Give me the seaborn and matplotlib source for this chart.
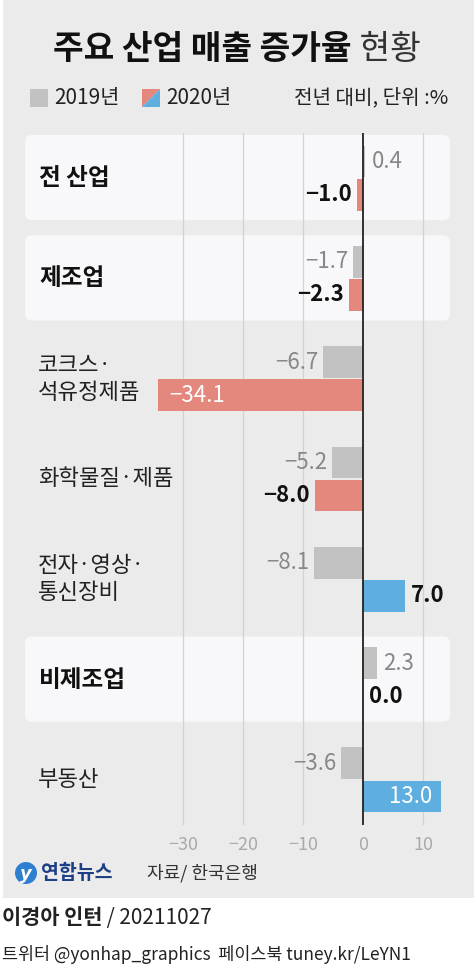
import pandas as pd
import matplotlib.pyplot as plt
import seaborn as sns
from matplotlib.patches import FancyBboxPatch, Rectangle, Polygon, Circle

# Data (전년 대비 증가율, %)
categories = ['전 산업', '제조업', '코크스·\n석유정제품', '화학물질·제품',
              '전자·영상·\n통신장비', '비제조업', '부동산']
bold_rows = [0, 1, 5]
values_2019 = [0.4, -1.7, -6.7, -5.2, -8.1, 2.3, -3.6]
values_2020 = [-1.0, -2.3, -34.1, -8.0, 7.0, 0.0, 13.0]
label_2019 = ['0.4', '−1.7', '−6.7', '−5.2', '−8.1', '2.3', '−3.6']
label_2020 = ['−1.0', '−2.3', '−34.1', '−8.0', '7.0', '0.0', '13.0']
inside_2020 = [False, False, True, False, False, False, True]
years = ['2019년', '2020년']
xticks = [-30, -20, -10, 0, 10]

GRAY = '#c2c2c2'
RED = '#e4877d'
BLUE = '#5eaee0'
PANEL = '#ebebeb'
BOX = '#f8f8fa'

sns.set_theme(style='white')
plt.rcParams['font.family'] = ['Noto Sans CJK KR', 'DejaVu Sans']
plt.rcParams['axes.unicode_minus'] = True

W, H = 474, 971
fig = plt.figure(figsize=(W / 100, H / 100), dpi=100)

# background axes in pixel coordinates
bg = fig.add_axes([0, 0, 1, 1], zorder=0)
bg.set_xlim(0, W)
bg.set_ylim(H, 0)
bg.axis('off')
bg.add_patch(Rectangle((3, 0), W - 3, 898, color=PANEL, lw=0))

# main chart axes
top_px, bot_px = 133, 825
ax = fig.add_axes([3 / W, 1 - bot_px / H, (W - 3) / W, (bot_px - top_px) / H], zorder=1)
ax.set_facecolor('none')

df = pd.DataFrame({
    'category': categories * 2,
    'value': values_2019 + values_2020,
    'year': [years[0]] * len(categories) + [years[1]] * len(categories),
})

sns.barplot(data=df, y='category', x='value', hue='year', orient='h',
            palette=[GRAY, RED], saturation=1, width=0.66, gap=0.04,
            legend=False, errorbar=None, linewidth=0, ax=ax, zorder=3)

# positive 2020 bars in blue
for bar, v in zip(ax.containers[1], values_2020):
    if v > 0:
        bar.set_facecolor(BLUE)

ax.set_xlim(-60, 18.5)
ax.set_ylim(6.45, -0.45)
ax.set_xlabel('')
ax.set_ylabel('')
ax.set_yticks([])
ax.set_xticks(xticks)
ax.tick_params(axis='x', length=0, pad=8, labelsize=13, labelcolor='#aaaaaa')
for s in ax.spines.values():
    s.set_visible(False)

for gx in xticks:
    if gx == 0:
        ax.axvline(0, color='#222222', lw=1.3, zorder=4)
    else:
        ax.axvline(gx, color='#d2d2d2', lw=0.9, zorder=2)

# white boxes for the total rows
inv = bg.transData.inverted()
for i in bold_rows:
    _, y0 = inv.transform(ax.transData.transform((0, i - 0.43)))
    _, y1 = inv.transform(ax.transData.transform((0, i + 0.42)))
    bg.add_patch(FancyBboxPatch((25, y0), 425, y1 - y0,
                                boxstyle='round,pad=0,rounding_size=7',
                                fc=BOX, ec='none', zorder=1))

# category labels
ytr = ax.get_yaxis_transform()
for i, c in enumerate(categories):
    if i in bold_rows:
        ax.text(0.077, i, c, transform=ytr, ha='left', va='center',
                fontsize=17, fontweight='bold', color='#111111')
    else:
        ax.text(0.075, i, c, transform=ytr, ha='left', va='center',
                fontsize=16, color='#222222', linespacing=1.2)

# value labels
off = 3.5
for bars, vals, labs, year in [(ax.containers[0], values_2019, label_2019, 0),
                               (ax.containers[1], values_2020, label_2020, 1)]:
    for k, (bar, v, lab) in enumerate(zip(bars, vals, labs)):
        yc = bar.get_y() + bar.get_height() / 2
        if year == 0:
            kw = dict(color='#888888', fontsize=16)
        else:
            kw = dict(color='#111111', fontsize=16, fontweight='bold')
        if year == 1 and inside_2020[k]:
            kw['color'] = 'white'
            kw['fontweight'] = 'normal'
            if v < 0:
                ax.annotate(lab, (v, yc), xytext=(8, 0), textcoords='offset points',
                            ha='left', va='center', zorder=5, **kw)
            else:
                ax.annotate(lab, (v, yc), xytext=(-6, 0), textcoords='offset points',
                            ha='right', va='center', zorder=5, **kw)
        elif v < 0:
            ax.annotate(lab, (v, yc), xytext=(-off, 0), textcoords='offset points',
                        ha='right', va='center', zorder=5, **kw)
        else:
            ax.annotate(lab, (v, yc), xytext=(off + 1, 0), textcoords='offset points',
                        ha='left', va='center', zorder=5, **kw)

# title: bold part + regular part, centred as one line
t1 = bg.text(237, 50, '주요 산업 매출 증가율', ha='right', va='center', fontsize=24,
             fontweight='bold', color='#111111')
t2 = bg.text(237, 50, ' 현황', ha='left', va='center', fontsize=24, color='#333333')
fig.canvas.draw()
r = fig.canvas.get_renderer()
w1 = t1.get_window_extent(r).width
w2 = t2.get_window_extent(r).width
shift = (w1 - w2) / 2
t1.set_x(237 + shift)
t2.set_x(237 + shift)

# legend
bg.add_patch(Rectangle((30, 89), 18, 18, color=GRAY, lw=0))
bg.text(54, 98, years[0], ha='left', va='center', fontsize=15, color='#222222')
bg.add_patch(Polygon([(142, 89), (160, 89), (142, 107)], color=RED, lw=0))
bg.add_patch(Polygon([(160, 89), (160, 107), (142, 107)], color=BLUE, lw=0))
bg.text(166, 98, years[1], ha='left', va='center', fontsize=15, color='#222222')
bg.text(448, 98, '전년 대비, 단위 :%', ha='right', va='center', fontsize=14.5,
        color='#222222')

# logo and source
bg.add_patch(Circle((26, 873), 11, color='#2f7fd0', lw=0))
bg.text(26, 874, 'y', ha='center', va='center', fontsize=13, style='italic',
        fontweight='bold', color='white', family=['DejaVu Sans'])
bg.text(41, 873, '연합뉴스', ha='left', va='center', fontsize=14,
        fontweight='bold', color='#1d3f86')
bg.text(147, 873, '자료/ 한국은행', ha='left', va='center', fontsize=13,
        color='#333333')

# credits
c1 = bg.text(2, 918, '이경아 인턴', ha='left', va='center', fontsize=15,
             fontweight='bold', color='#222222')
fig.canvas.draw()
cw = c1.get_window_extent(fig.canvas.get_renderer()).width
bg.text(2 + cw, 918, ' / 20211027', ha='left', va='center', fontsize=15,
        color='#222222')
bg.text(2, 954, '트위터 @yonhap_graphics  페이스북 tuney.kr/LeYN1', ha='left',
        va='center', fontsize=12.5, color='#222222')

fig.savefig('out.png', dpi=100)
